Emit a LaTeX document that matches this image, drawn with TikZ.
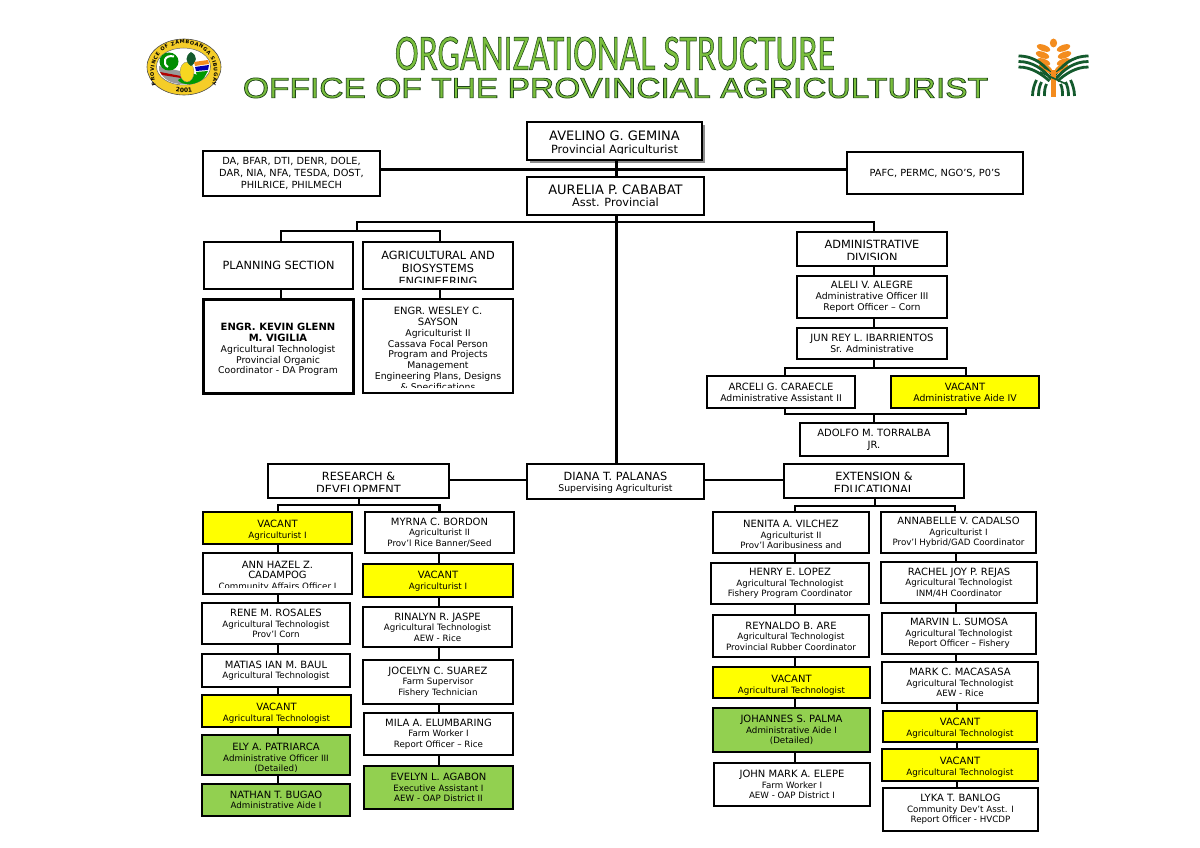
\documentclass[tikz,border=0pt]{standalone}
\usepackage{fontspec}
\setmainfont{DejaVu Sans}
\newfontfamily\titlefont{Carlito}
\newfontfamily\subtitlefont{Liberation Sans}
\usetikzlibrary{shadows,decorations.text}
\definecolor{myyellow}{RGB}{255,255,0}
\definecolor{mygreen}{RGB}{146,208,80}
\definecolor{myorange}{RGB}{243,140,30}
\definecolor{myleaf}{RGB}{20,90,45}
\definecolor{mygold}{RGB}{245,205,40}
\newcommand{\headname}{\fontsize{13}{13.5}\selectfont}
\newcommand{\headrole}{\fontsize{11.3}{12.5}\selectfont}
\newcommand{\sectionfont}{\fontsize{11.3}{12.8}\selectfont}
\newcommand{\namefont}{\fontsize{10}{12.2}\selectfont}
\newcommand{\largerole}{\fontsize{9.3}{10.8}\selectfont}
\newcommand{\rolefont}{\fontsize{8.7}{10.5}\selectfont}
\newcommand{\greenoutline}[1]{\special{pdf:code 0.48 0.75 0.24 rg 0.12 0.28 0.10 RG 2 Tr #1 w}}
\newcommand{\cuttext}[5][\rolefont]{%
  \begin{scope}
    \clip (#2.north west) rectangle (#2.east |- 0,#3);
    \node[boxtext, font=#1, anchor=north, yshift=-#4pt] (#2text) at (#2.north) {#5};
  \end{scope}}
\tikzset{
  boxtext/.style={inner sep=0pt, align=center},
  orgbox/.style={draw, line width=2.6pt, fill=white, inner sep=1pt, outer sep=0pt, align=center, font=\rolefont},
  boxsize/.style 2 args={minimum width=#1pt, minimum height=#2pt},
  vacant/.style={orgbox, fill=myyellow},
  detailed/.style={orgbox, fill=mygreen},
  link/.style={line width=2.2pt},
  thinlink/.style={line width=1.6pt},
  spine/.style={line width=3pt},
  leafline/.style={myleaf, line width=2.8pt}
}
\begin{document}
\begin{tikzpicture}[x=1pt, y=-1pt]
  \useasboundingbox (0,0) rectangle (1200,848);

  % Title
  \node[inner sep=0pt] (title) at (615,53.5) {\resizebox{440pt}{33pt}{\titlefont\greenoutline{0.14}ORGANIZATIONAL STRUCTURE\special{pdf:code 0 Tr 0 g 0 G 1 w}}};
  \node[inner sep=0pt] (subtitle) at (615.5,88) {\resizebox{745pt}{20pt}{\subtitlefont\greenoutline{0.24}OFFICE OF THE PROVINCIAL AGRICULTURIST\special{pdf:code 0 Tr 0 g 0 G 1 w}}};

  % Provincial seal
  \draw[fill=mygold, draw=black!70, line width=0.6pt] (184,67) ellipse (37pt and 28pt);
  \path[decorate, decoration={text along path, text align={fit to path}, text={|\fontsize{5}{6}\selectfont\bfseries|PROVINCE OF ZAMBOANGA SIBUGAY}}]
    (156,85) .. controls (140,30) and (228,30) .. (212,85);
  \path[decorate, decoration={text along path, text align=center, text={|\fontsize{6}{6}\selectfont\bfseries|2001}}]
    (170,90) .. controls (178,93) and (190,93) .. (198,90);
  \fill[white, draw=black!60, line width=0.5pt] (183.5,66.5) ellipse (27pt and 18.5pt);
  \fill[black!40] (159,70) .. controls (165,84) and (178,84) .. (184,84) -- (184,72) -- (159,66) -- cycle;
  \fill[red!70!black] (160,72) -- (181,76) -- (181,78) -- (162,75) -- cycle;
  \fill[green!55!black] (169,61.5) ellipse (9.5pt and 9pt);
  \draw[white, line width=2pt] (174,56.5) .. controls (164,54) and (162,64) .. (168,67);
  \fill[green!60!black] (178,80) .. controls (182,86) and (196,86) .. (204,78) -- (190,72) -- cycle;
  \fill[mygold!80!yellow, draw=black!50, line width=0.3pt] (187,72) ellipse (7pt and 10pt);
  \fill[myleaf] (191,52) .. controls (198,56) and (197,62) .. (191,66) .. controls (185,62) and (185,56) .. (191,52) -- cycle;
  \fill[myorange] (194,62) -- (208,60) -- (209,64) -- (195,66) -- cycle;
  \fill[blue!70!black] (195,67) -- (209,65) -- (208,70) -- (196,71) -- cycle;
  \fill[green!60!black] (196,72) -- (208,71) -- (204,78) -- (197,77) -- cycle;

  % Wheat logo
  \foreach \s in {1,-1} {
    \begin{scope}[shift={(1053.5,0)}, xscale=\s]
      \foreach \dy/\dx/\ang in {48/10/20, 55/11/20, 62/10/20, 68/8/25} {
        \fill[myorange, shift={(\dx,\dy)}, rotate=\ang] (0,0) ellipse (7pt and 3.2pt);
      }
      \draw[leafline] (35,56) .. controls (18,56) and (8,66) .. (0,77);
      \draw[leafline] (35,61.5) .. controls (20,61.5) and (10,70) .. (2,79);
      \draw[leafline] (35,67) .. controls (22,67) and (12,74) .. (4,81);
      \draw[leafline] (21,96) .. controls (21,90) and (19,84) .. (17,80);
      \draw[leafline] (15,96) .. controls (15,90) and (14,86) .. (12,82);
      \draw[leafline] (9,96) .. controls (9,92) and (9,88) .. (7,84);
    \end{scope}
  }
  \fill[myorange] (1053.5,43) ellipse (3.6pt and 4.5pt);
  \fill[myorange] (1045,69) .. controls (1047,76) and (1060,76) .. (1062,69) -- (1053.5,74) -- cycle;
  \fill[myorange] (1050.8,70) rectangle (1056.2,97);
  \draw[myleaf, line width=1.6pt] (1040,72) -- (1066,84);

  % Head
  \node[orgbox, boxsize={175}{38}, drop shadow={shadow xshift=3pt, shadow yshift=-3pt, fill=black!45, opacity=1}] (avelino) at (614.5,141) {};
  \cuttext[\headrole]{avelino}{154}{9}{\headname AVELINO G. GEMINA\\Provincial Agriculturist}
  \node[orgbox, boxsize={177}{38}, font=\headrole] (aurelia) at (615.5,196) {\headname AURELIA P. CABABAT\\Asst. Provincial};
  \node[orgbox, boxsize={177}{45}, font=\fontsize{9.8}{12}\selectfont] (govt) at (291.5,173.5) {DA, BFAR, DTI, DENR, DOLE,\\DAR, NIA, NFA, TESDA, DOST,\\PHILRICE, PHILMECH};
  \node[orgbox, boxsize={176}{42}, font=\fontsize{9.8}{12}\selectfont] (pafc) at (935,173) {PAFC, PERMC, NGO'S, P0'S};

  % Planning and engineering
  \node[orgbox, boxsize={149}{47}, font=\sectionfont] (planning) at (278.5,265.5) {PLANNING SECTION};
  \node[orgbox, boxsize={150}{47}] (agri) at (438,265.5) {};
  \cuttext[\sectionfont]{agri}{282}{9}{AGRICULTURAL AND\\BIOSYSTEMS\\ENGINEERING}
  \node[orgbox, boxsize={150}{94}, line width=3pt] (kevin) at (278,346) {};
  \cuttext[\largerole]{kevin}{390}{24}{\namefont\bfseries ENGR. KEVIN GLENN\\\namefont\bfseries M. VIGILIA\\Agricultural Technologist\\Provincial Organic\\Coordinator - DA Program}
  \node[orgbox, boxsize={150}{94}] (wesley) at (438,346) {};
  \cuttext[\largerole]{wesley}{387}{8}{\namefont ENGR. WESLEY C.\\\namefont SAYSON\\Agriculturist II\\Cassava Focal Person\\Program and Projects\\Management\\Engineering Plans, Designs\\\& Specifications}

  % Administrative division
  \node[orgbox, boxsize={150}{34}] (admin) at (872,249) {};
  \cuttext[\sectionfont]{admin}{259.5}{8}{ADMINISTRATIVE\\DIVISION}
  \node[orgbox, boxsize={150}{42}, font=\largerole] (aleli) at (872,297) {\namefont ALELI V. ALEGRE\\Administrative Officer III\\Report Officer -- Corn};
  \node[orgbox, boxsize={150}{31}, font=\largerole] (junrey) at (872,343.5) {\namefont JUN REY L. IBARRIENTOS\\Sr. Administrative};
  \node[orgbox, boxsize={148}{32}, font=\largerole] (arceli) at (781,392) {\namefont ARCELI G. CARAECLE\\Administrative Assistant II};
  \node[vacant, boxsize={148}{32}, font=\largerole] (aide) at (965,392) {\namefont VACANT\\Administrative Aide IV};
  \node[orgbox, boxsize={148}{33}, font=\namefont] (adolfo) at (874,439.5) {ADOLFO M. TORRALBA\\JR.};

  % Middle row
  \node[orgbox, boxsize={181}{34}] (research) at (358.5,481) {};
  \cuttext[\sectionfont]{research}{491.5}{8}{RESEARCH \&\\DEVELOPMENT}
  \node[orgbox, boxsize={177}{35}] (diana) at (615.5,481.5) {};
  \cuttext[\largerole]{diana}{492}{8}{\sectionfont DIANA T. PALANAS\\Supervising Agriculturist}
  \node[orgbox, boxsize={180}{34}] (extension) at (874,481) {};
  \cuttext[\sectionfont]{extension}{491.5}{8}{EXTENSION \&\\EDUCATIONAL}

  % Research, left column
  \node[vacant, boxsize={149}{32}] (vacone) at (277.5,528) {};
  \cuttext{vacone}{539}{8}{\namefont VACANT\\Agriculturist I}
  \node[orgbox, boxsize={149}{41}] (ann) at (277.5,573.5) {};
  \cuttext{ann}{587}{8}{\namefont ANN HAZEL Z.\\\namefont CADAMPOG\\Community Affairs Officer I}
  \node[orgbox, boxsize={148}{41}] (rene) at (276,623.5) {\namefont RENE M. ROSALES\\Agricultural Technologist\\Prov'l Corn};
  \node[orgbox, boxsize={148}{33}] (matias) at (276,670.5) {\namefont MATIAS IAN M. BAUL\\Agricultural Technologist};
  \node[vacant, boxsize={149}{32}] (vactwo) at (276.5,711) {};
  \cuttext{vactwo}{722}{8}{\namefont VACANT\\Agricultural Technologist}
  \node[detailed, boxsize={148}{40}] (ely) at (276,755) {};
  \cuttext{ely}{771}{8}{\namefont ELY A. PATRIARCA\\Administrative Officer III\\(Detailed)}
  \node[detailed, boxsize={148}{32}] (nathan) at (276,800) {\namefont NATHAN T. BUGAO\\Administrative Aide I};

  % Research, right column
  \node[orgbox, boxsize={149}{41}] (myrna) at (439.5,532.5) {\namefont MYRNA C. BORDON\\Agriculturist II\\Prov'l Rice Banner/Seed};
  \node[vacant, boxsize={150}{33}] (vacthree) at (438,580.5) {};
  \cuttext{vacthree}{590}{7}{\namefont VACANT\\Agriculturist I}
  \node[orgbox, boxsize={149}{40}] (rinalyn) at (437.5,627) {\namefont RINALYN R. JASPE\\Agricultural Technologist\\AEW - Rice};
  \node[orgbox, boxsize={150}{44}] (jocelyn) at (438,682) {\namefont JOCELYN C. SUAREZ\\Farm Supervisor\\Fishery Technician};
  \node[orgbox, boxsize={149}{42}] (mila) at (438.5,734) {\namefont MILA A. ELUMBARING\\Farm Worker I\\Report Officer -- Rice};
  \node[detailed, boxsize={149}{43}] (evelyn) at (438.5,787.5) {\namefont EVELYN L. AGABON\\Executive Assistant I\\AEW - OAP District II};

  % Extension, left column
  \node[orgbox, boxsize={156}{41}] (nenita) at (791,532.5) {};
  \cuttext{nenita}{547}{8}{\namefont NENITA A. VILCHEZ\\Agriculturist II\\Prov'l Agribusiness and}
  \node[orgbox, boxsize={158}{41}] (henry) at (790,583.5) {\namefont HENRY E. LOPEZ\\Agricultural Technologist\\Fishery Program Coordinator};
  \node[orgbox, boxsize={156}{42}] (reynaldo) at (791,636) {\namefont REYNALDO B. ARE\\Agricultural Technologist\\Provincial Rubber Coordinator};
  \node[vacant, boxsize={157}{31}] (vacfour) at (791.5,682.5) {};
  \cuttext{vacfour}{694}{8}{\namefont VACANT\\Agricultural Technologist}
  \node[detailed, boxsize={157}{44}] (johannes) at (791.5,730) {\namefont JOHANNES S. PALMA\\Administrative Aide I\\(Detailed)};
  \node[orgbox, boxsize={156}{43}] (john) at (792,784.5) {\namefont JOHN MARK A. ELEPE\\Farm Worker I\\AEW - OAP District I};

  % Extension, right column
  \node[orgbox, boxsize={155}{41}] (annabelle) at (958.5,532.5) {\namefont ANNABELLE V. CADALSO\\Agriculturist I\\Prov'l Hybrid/GAD Coordinator};
  \node[orgbox, boxsize={156}{41}] (rachel) at (959,582.5) {\namefont RACHEL JOY P. REJAS\\Agricultural Technologist\\INM/4H Coordinator};
  \node[orgbox, boxsize={154}{41}] (marvin) at (959,633.5) {\namefont MARVIN L. SUMOSA\\Agricultural Technologist\\Report Officer -- Fishery};
  \node[orgbox, boxsize={156}{41}] (mark) at (960,682.5) {\namefont MARK C. MACASASA\\Agricultural Technologist\\AEW - Rice};
  \node[vacant, boxsize={154}{31}] (vacfive) at (960,726.5) {};
  \cuttext{vacfive}{737}{7}{\namefont VACANT\\Agricultural Technologist}
  \node[vacant, boxsize={156}{32}] (vacsix) at (960,765) {};
  \cuttext{vacsix}{776}{8}{\namefont VACANT\\Agricultural Technologist}
  \node[orgbox, boxsize={155}{43}] (lyka) at (960.5,809.5) {\namefont LYKA T. BANLOG\\Community Dev't Asst. I\\Report Officer - HVCDP};

  % Spine
  \draw[spine] (avelino.south -| 616,0) -- (aurelia.north -| 616,0);
  \draw[spine] (aurelia.south -| 616,0) -- (diana.north -| 616,0);
  \draw[link] (govt.east |- 0,169.5) -- (pafc.west |- 0,169.5);
  \draw[link] (research.east |- 0,480) -- (diana.west |- 0,480);
  \draw[link] (diana.east |- 0,480) -- (extension.west |- 0,480);

  % Branch under the assistant
  \coordinate (topbar) at (357,222);
  \coordinate (planbar) at (357,231);
  \draw[thinlink] (admin.north -| 874,0) |- (topbar) -- (planbar);
  \draw[link] (planning.north -| 281,0) |- (planbar) -| (agri.north -| 440,0);

  % Branches in the rows
  \coordinate (adminbar) at (874,368);
  \coordinate (adminlow) at (874,414);
  \draw[link] (junrey.south -| adminbar) -- (adminbar);
  \draw[link] (arceli.north -| 785,0) |- (adminbar) -| (aide.north -| 966,0);
  \draw[link] (arceli.south -| 785,0) |- (adminlow) -| (aide.south -| 966,0);
  \draw[link] (adminlow) -- (adolfo.north);
  \coordinate (resbar) at (359,505);
  \draw[link] (research.south -| resbar) -- (resbar);
  \draw[link] (vacone.north -| 278,0) |- (resbar) -| (myrna.north);
  \coordinate (extbar) at (875,506);
  \draw[link] (extension.south -| extbar) -- (extbar);
  \draw[link] (nenita.north -| 795,0) |- (extbar) -| (annabelle.north -| 955,0);

  % Vertical links
  \foreach \a/\b/\col in {planning/kevin/281, agri/wesley/440, admin/aleli/874, aleli/junrey/874,
      vacone/ann/278, ann/rene/278, rene/matias/278, matias/vactwo/278, vactwo/ely/278, ely/nathan/278,
      myrna/vacthree/439, vacthree/rinalyn/439, rinalyn/jocelyn/439, jocelyn/mila/439, mila/evelyn/439,
      nenita/henry/795, henry/reynaldo/795, reynaldo/vacfour/795, vacfour/johannes/795, johannes/john/795,
      annabelle/rachel/956, rachel/marvin/956, marvin/mark/956, mark/vacfive/957, vacfive/vacsix/957, vacsix/lyka/957} {
    \draw[link] (\a.south -| \col,0) -- (\b.north -| \col,0);
  }
\end{tikzpicture}
\end{document}
